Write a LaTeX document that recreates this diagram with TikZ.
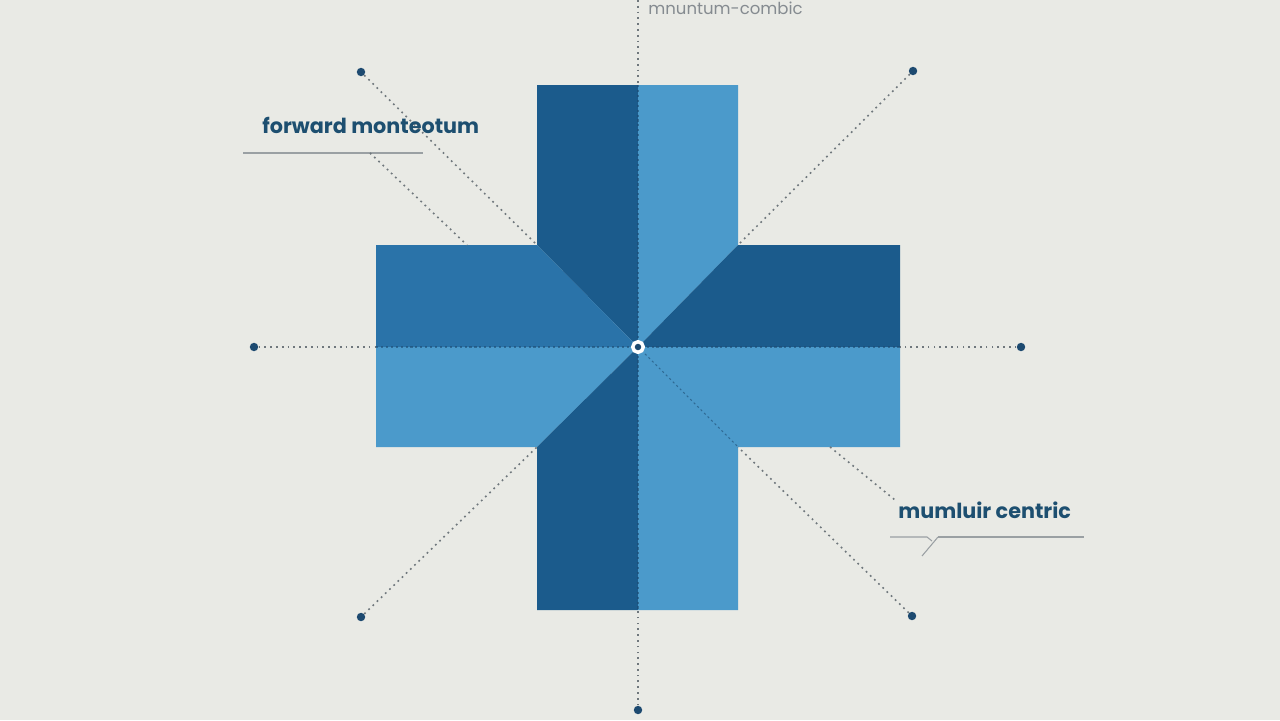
\documentclass[tikz,border=0pt]{standalone}
\usepackage{fontspec}
\usetikzlibrary{positioning}
\newfontfamily\labelfont{Poppins}
\definecolor{bgcol}{HTML}{E9EAE5}
\definecolor{darkblue}{HTML}{1B5B8C}
\definecolor{midblue}{HTML}{2A73A9}
\definecolor{lightblue}{HTML}{4B9ACB}
\definecolor{dotcol}{HTML}{1D4A70}
\definecolor{guide}{HTML}{6F777C}
\definecolor{labelcol}{HTML}{1D4F70}
\tikzset{
  guideline/.style={draw=guide, line width=0.9pt, dash pattern=on 1pt off 2.3pt},
  innerline/.style={draw=dotcol, line width=0.6pt, dash pattern=on 1.2pt off 1.6pt, opacity=0.6},
  enddot/.style={circle, fill=dotcol, inner sep=0pt, minimum size=4.8pt},
  callout/.style={text=labelcol, font=\labelfont\bfseries\fontsize{11.8}{14}\selectfont, inner sep=0pt},
  underline/.style={draw=guide!70, line width=0.6pt}
}

\begin{document}
\begin{tikzpicture}[x=0.02cm, y=-0.02cm]
    \fill[bgcol] (0,0) rectangle (1280,720);
    \useasboundingbox (0,0) rectangle (1280,720);

    % cross corners
    \coordinate (C) at (638,347);
    \coordinate (ctl) at (537,245);
    \coordinate (ctr) at (738,245);
    \coordinate (cbl) at (537,447);
    \coordinate (cbr) at (738,447);
    \coordinate (ctop) at (638,85);
    \coordinate (cbot) at (638,610);
    \coordinate (cleft) at (376,347);
    \coordinate (cright) at (900,347);

    % panels
    \fill[darkblue] (537,85) -- (ctop) -- (C) -- (ctl) -- cycle;
    \fill[lightblue] (ctop) -- (738,85) -- (ctr) -- (C) -- cycle;
    \fill[midblue] (376,245) -- (ctl) -- (C) -- (cleft) -- cycle;
    \fill[darkblue] (ctr) -- (900,245) -- (cright) -- (C) -- cycle;
    \fill[lightblue] (cleft) -- (C) -- (cbl) -- (376,447) -- cycle;
    \fill[darkblue] (cbl) -- (C) -- (cbot) -- (537,610) -- cycle;
    \fill[lightblue] (C) -- (cright) -- (900,447) -- (cbr) -- (738,610) -- (cbot) -- cycle;

    \draw[innerline] (cleft) -- (cright);
    \draw[innerline] (ctop) -- (cbot);
    \draw[innerline] (C) -- (cbr);

    % end dots
    \node[enddot] (dtl) at (361,72) {};
    \node[enddot] (dtr) at (913,71) {};
    \node[enddot] (dl) at (254,347) {};
    \node[enddot] (dr) at (1021,347) {};
    \node[enddot] (dbl) at (361,617) {};
    \node[enddot] (dbr) at (912,616) {};
    \node[enddot] (db) at (638,710) {};
    \coordinate (dt) at (638,0);

    \path (dtl) edge[guideline] (ctl)
          (dtr) edge[guideline] (ctr)
          (dl) edge[guideline] (cleft)
          (dr) edge[guideline] (cright)
          (dbl) edge[guideline] (cbl)
          (dbr) edge[guideline] (cbr)
          (db) edge[guideline] (cbot)
          (dt) edge[guideline] (ctop);

    \node[circle, fill=dotcol, draw=white, line width=2pt, inner sep=0pt, minimum size=6pt] (hub) at (C) {};

    % labels
    \node[anchor=west, text=guide!85, font=\labelfont\fontsize{9.4}{11}\selectfont, inner sep=0pt] (ttl) at (648,8) {mnuntum-combic};
    \node[callout, anchor=west] (fwd) at (262,125) {forward monteotum};
    \node[callout, anchor=west] (cen) at (898,510) {mumluir centric};

    \coordinate (fwdL) at (243,153);
    \coordinate (fwdR) at (423,153);
    \coordinate (fwdK) at (370,153);
    \coordinate (fwdE) at (467,245);
    \draw[underline] (fwdL) -- (fwdR);
    \draw[guideline] (fwdK) -- (fwdE);

    \coordinate (cenL) at (890,537);
    \coordinate (cenR) at (1084,537);
    \coordinate (cenK) at (938,537);
    \coordinate (cenT) at (922,556);
    \coordinate (cenS) at (830,447);
    \coordinate (cenE) at (895,500);
    \draw[underline] (cenL) -- (927,537) -- (932,541);
    \draw[underline] (cenK) -- (cenR);
    \draw[underline] (cenK) -- (cenT);
    \draw[guideline] (cenS) -- (cenE);
\end{tikzpicture}
\end{document}
